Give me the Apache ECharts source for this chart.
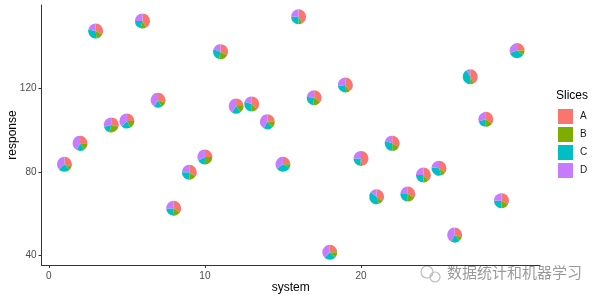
<!DOCTYPE html>
<html>
<head>
<meta charset="utf-8">
<script src="https://cdn.jsdelivr.net/npm/echarts@6/dist/echarts.min.js"></script>
<style>html,body{margin:0;padding:0;background:#fff}#c{width:600px;height:300px}</style>
</head>
<body>
<div id="c"></div>
<script>
// ---- data ----
var systems = [1,2,3,4,5,6,7,8,9,10,11,12,13,14,15,16,17,18,19,20,21,22,23,24,25,26,27,28,29,30];
var responses = [83.7,93.7,147.4,102.5,104.4,152.2,114.3,62.7,79.9,87.2,137.5,111.5,112.5,104.0,83.7,154.2,115.5,41.6,121.6,86.5,68.2,93.7,69.5,78.6,81.8,49.9,125.5,105.2,66.3,138.0];
var sliceA = [0.30,0.25,0.33,0.29,0.25,0.42,0.30,0.35,0.35,0.25,0.33,0.25,0.38,0.25,0.25,0.42,0.35,0.25,0.40,0.47,0.35,0.33,0.33,0.38,0.35,0.30,0.42,0.35,0.33,0.25];
var sliceB = [0.08,0.15,0.15,0.25,0.17,0.12,0.12,0.17,0.15,0.25,0.20,0.15,0.12,0.13,0.07,0.08,0.17,0.12,0.08,0.05,0.10,0.17,0.17,0.12,0.10,0.08,0.08,0.15,0.17,0.10];
var sliceC = [0.25,0.17,0.30,0.17,0.20,0.21,0.17,0.22,0.25,0.17,0.27,0.20,0.30,0.20,0.33,0.25,0.25,0.25,0.25,0.23,0.40,0.30,0.25,0.25,0.32,0.20,0.42,0.20,0.25,0.35];
var sliceD = [0.37,0.43,0.22,0.29,0.38,0.25,0.41,0.26,0.25,0.33,0.20,0.40,0.20,0.42,0.35,0.25,0.23,0.38,0.27,0.25,0.15,0.20,0.25,0.25,0.23,0.42,0.08,0.30,0.25,0.30];
var sliceNames = ['A','B','C','D'];
var sliceColors = ['#F8766D','#7CAE00','#00BFC4','#C77CFF'];
var xTicks = [0,10,20];
var yTicks = [40,80,120];

var slices = [sliceA, sliceB, sliceC, sliceD];
var FONT = 'Liberation Sans, Arial, sans-serif';
var R = 7.5;

function buildData(k) {
  var out = [];
  for (var i = 0; i < systems.length; i++) {
    var tot = 0, before = 0;
    for (var j = 0; j < 4; j++) { tot += slices[j][i]; if (j < k) before += slices[j][i]; }
    out.push([systems[i], responses[i], before / tot, (before + slices[k][i]) / tot]);
  }
  return out;
}

function renderSlice(params, api) {
  var p = api.coord([api.value(0), api.value(1)]);
  var s = api.value(2), e = api.value(3);
  return {
    type: 'sector',
    shape: {
      cx: p[0], cy: p[1], r0: 0, r: R,
      startAngle: -Math.PI / 2 + 2 * Math.PI * s,
      endAngle: -Math.PI / 2 + 2 * Math.PI * e,
      clockwise: true
    },
    style: { fill: api.visual('color') }
  };
}

var series = sliceNames.map(function (n, k) {
  return {
    type: 'custom',
    name: n,
    color: sliceColors[k],
    itemStyle: { color: sliceColors[k] },
    renderItem: renderSlice,
    encode: { x: 0, y: 1 },
    data: buildData(k),
    silent: true,
    animation: false
  };
});

var chart = echarts.init(document.getElementById('c'), null, { renderer: 'canvas' });
chart.setOption({
  animation: false,
  backgroundColor: '#ffffff',
  grid: { left: 41.5, right: 60, top: 5, bottom: 35, containLabel: false, outerBoundsMode: 'none' },
  xAxis: {
    type: 'value', min: -0.47, max: 31.47,
    name: 'system', nameLocation: 'middle', nameGap: 17, nameMoveOverlap: false,
    nameTextStyle: { fontFamily: FONT, fontSize: 12, color: '#000' },
    axisLine: { show: true, onZero: false, lineStyle: { color: '#333', width: 1 } },
    axisTick: { show: true, length: 3, customValues: xTicks, lineStyle: { color: '#333' } },
    axisLabel: { customValues: xTicks, fontFamily: FONT, fontSize: 10, color: '#4d4d4d', margin: 6 },
    splitLine: { show: false }
  },
  yAxis: {
    type: 'value', min: 35.56, max: 159.8,
    name: 'response', nameLocation: 'middle', nameGap: 23, nameRotate: 90, nameMoveOverlap: false,
    nameTextStyle: { fontFamily: FONT, fontSize: 12, color: '#000' },
    axisLine: { show: true, onZero: false, lineStyle: { color: '#333', width: 1 } },
    axisTick: { show: true, length: 3, customValues: yTicks, lineStyle: { color: '#333' } },
    axisLabel: { customValues: yTicks, fontFamily: FONT, fontSize: 10, color: '#4d4d4d', margin: 5 },
    splitLine: { show: false }
  },
  legend: {
    orient: 'vertical', left: 558, top: 109, padding: 0,
    itemWidth: 15, itemHeight: 15, itemGap: 3, icon: 'rect',
    data: sliceNames,
    textStyle: { fontFamily: FONT, fontSize: 10, color: '#1a1a1a', padding: [0, 0, 0, 2] },
    selectedMode: false
  },
  graphic: [
    { type: 'text', left: 556, top: 90, style: { text: 'Slices', font: '12px ' + FONT, fill: '#000' } },
    { type: 'circle', shape: { cx: 427, cy: 272, r: 6 }, style: { fill: 'none', stroke: '#bdbdbd', lineWidth: 1.2 } },
    { type: 'circle', shape: { cx: 435, cy: 277, r: 5 }, style: { fill: 'none', stroke: '#bdbdbd', lineWidth: 1.2 } },
    { type: 'text', left: 447, top: 265, style: { text: '数据统计和机器学习', font: '15px "Noto Sans CJK SC"', fill: '#9a9a9a' } }
  ],
  series: series
});
</script>
</body>
</html>
